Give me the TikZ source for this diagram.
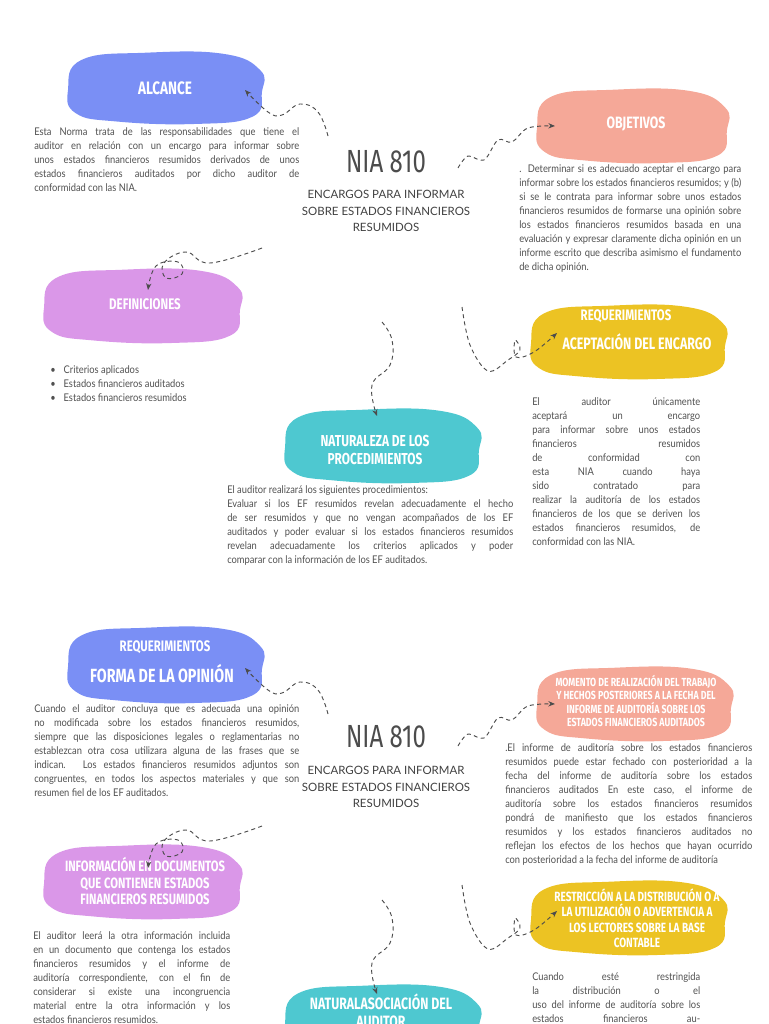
\documentclass[tikz,border=0pt]{standalone}
\usepackage{fontspec}
\usetikzlibrary{arrows.meta}
\setmainfont[FakeStretch=0.88]{Lato}
\newfontfamily\headfont[FakeStretch=0.75]{Fira Sans}
\newfontfamily\subfont{Lato}
\definecolor{bluec}{HTML}{7A8FF5}
\definecolor{salmonc}{HTML}{F5A898}
\definecolor{purplec}{HTML}{DA97E8}
\definecolor{yellowc}{HTML}{ECC323}
\definecolor{tealc}{HTML}{4EC8D0}
\definecolor{txtc}{HTML}{505050}
\newcommand\myblob[5]{\begin{scope}[shift={(#1,#2)},xscale=#3,yscale=#4]
\fill[#5] plot[smooth cycle,tension=0.75] coordinates {(-1,0.05) (-0.86,-0.78) (-0.2,-0.98) (0.6,-0.95) (0.98,-0.5) (1,0.1) (0.9,0.8) (0.3,1) (-0.5,0.93) (-0.92,0.7)};
\end{scope}}
\newcommand\hf[2]{\headfont\bfseries\fontsize{#1}{#2}\selectfont}
\tikzset{
 head/.style={text=white,align=center,inner sep=0pt},
 body/.style={text=txtc,font=\fontsize{7.95}{10.5}\selectfont,align=justify,anchor=north west,inner sep=0pt},
 conn/.style={draw=black!70,dash pattern=on 3pt off 2.5pt,line width=0.7pt,-{Stealth[length=5pt,width=4pt]}},
 title/.style={text=black!70,font=\headfont\fontsize{24}{26}\selectfont},
 sub/.style={text=black!75,font=\subfont\fontsize{8.6}{12.4}\selectfont,align=center}
}
\begin{document}
\begin{tikzpicture}[x=0.75pt,y=-0.75pt]
\useasboundingbox (0,0) rectangle (768,1024);
\clip (0,0) rectangle (768,1024);
% ---------------- first half
\myblob{165}{88}{97}{36}{bluec}
\node[head,font=\hf{13.5}{16}] (alc) at (165,88) {ALCANCE};
\node[body,text width=198.75pt] (talc) at (34,127) {Esta Norma trata de las responsabilidades que tiene el\linebreak auditor en relación con un encargo para informar sobre\linebreak unos estados financieros resumidos derivados de unos\linebreak estados financieros auditados por dicho auditor de\linebreak conformidad con las NIA.};
\node[title] (nia) at (386,162) {NIA 810};
\node[sub] (nias) at (386,211) {ENCARGOS PARA INFORMAR\\SOBRE ESTADOS FINANCIEROS\\RESUMIDOS};
\myblob{632}{126}{95}{37}{salmonc}
\node[head,font=\hf{12.3}{15}] (obj) at (636,124) {OBJETIVOS};
\node[body,text width=166.5pt] (tobj) at (519,164) {. Determinar si es adecuado aceptar el encargo para\linebreak informar sobre los estados financieros resumidos; y (b)\linebreak si se le contrata para informar sobre unos estados\linebreak financieros resumidos de formarse una opinión sobre\linebreak los estados financieros resumidos basada en una\linebreak evaluación y expresar claramente dicha opinión en un\linebreak informe escrito que describa asimismo el fundamento\linebreak de dicha opinión.};
\myblob{142}{306}{98}{37}{purplec}
\node[head,font=\hf{11.5}{14}] (def) at (145,304) {DEFINICIONES};
\foreach \t [count=\i] in {Criterios aplicados,Estados financieros auditados,Estados financieros resumidos}
 \node[text=txtc,font=\fontsize{7.95}{9}\selectfont,anchor=west,inner sep=0pt] (b\i) at (50,357+13.5*\i) {\textbullet\hspace{6pt}\t};
\myblob{628}{342}{97}{37}{yellowc}
\node[head,font=\hf{11.4}{13}] (req1) at (626,316) {REQUERIMIENTOS};
\node[head,font=\hf{12.4}{14}] (req2) at (637,342) {ACEPTACIÓN DEL ENCARGO};
\node[body,text width=126pt] (treq) at (532,397) {El auditor únicamente aceptará un encargo\linebreak para informar sobre unos estados\linebreak financieros resumidos de conformidad con\linebreak esta NIA cuando haya sido contratado para\linebreak realizar la auditoría de los estados\linebreak financieros de los que se deriven los\linebreak estados financieros resumidos, de\linebreak conformidad con las NIA.};
\myblob{382}{446}{97}{37}{tealc}
\node[head,font=\hf{11.9}{13.5}] (nat) at (375,450) {NATURALEZA DE LOS\\PROCEDIMIENTOS};
\node[body,text width=214.5pt] (tnat) at (227,485) {El auditor realizará los siguientes procedimientos:\\Evaluar si los EF resumidos revelan adecuadamente el hecho\linebreak de ser resumidos y que no vengan acompañados de los EF\linebreak auditados y poder evaluar si los estados financieros resumidos\linebreak revelan adecuadamente los criterios aplicados y poder\linebreak comparar con la información de los EF auditados.};
% connectors
\coordinate (s1) at (328,136); \coordinate (e1) at (245,90);
\draw[conn] plot[smooth,tension=0.7] coordinates {(s1) (318,112) (300,104) (282,115) (268,112) (e1)};
\coordinate (s2) at (458,168); \coordinate (e2) at (555,126);
\draw[conn] plot[smooth,tension=0.6] coordinates {(s2) (468,156) (484,160) (498,140) (512,142) (528,128) (e2)};
\coordinate (s3) at (262,248); \coordinate (e3) at (148,290);
\draw[conn] plot[smooth,tension=0.7] coordinates {(s3) (210,263) (186,252) (164,263) (166,278) (182,274) (178,262) (156,266) (e3)};
\coordinate (s4) at (382,322); \coordinate (e4) at (377,416);
\draw[conn] plot[smooth,tension=0.7] coordinates {(s4) (392,340) (390,365) (372,385) (e4)};
\coordinate (s5) at (462,307); \coordinate (e5) at (557,333);
\draw[conn] plot[smooth,tension=0.6] coordinates {(s5) (470,345) (488,371) (508,360) (520,350) (515,340) (516,357) (534,352) (e5)};
% ---------------- second half
\myblob{165}{665}{97}{38}{bluec}
\node[head,font=\hf{11.4}{13}] (f1) at (165,647) {REQUERIMIENTOS};
\node[head,font=\hf{14.3}{16}] (f2) at (162,674) {FORMA DE LA OPINIÓN};
\node[body,text width=198.75pt] (tf) at (34,704) {Cuando el auditor concluya que es adecuada una opinión\linebreak no modificada sobre los estados financieros resumidos,\linebreak siempre que las disposiciones legales o reglamentarias no\linebreak establezcan otra cosa utilizara alguna de las frases que se\linebreak indican. Los estados financieros resumidos adjuntos son\linebreak congruentes, en todos los aspectos materiales y que son\linebreak resumen fiel de los EF auditados.};
\node[title] (nia2) at (386,737) {NIA 810};
\node[sub] (nias2) at (386,787) {ENCARGOS PARA INFORMAR\\SOBRE ESTADOS FINANCIEROS\\RESUMIDOS};
\myblob{634}{704}{97}{37}{salmonc}
\node[head,font=\hf{8.8}{10.2}] (mom) at (636,701) {MOMENTO DE REALIZACIÓN DEL TRABAJO\\Y HECHOS POSTERIORES A LA FECHA DEL\\INFORME DE AUDITORÍA SOBRE LOS\\ESTADOS FINANCIEROS AUDITADOS};
\node[body,text width=185.25pt] (tmom) at (505,743) {.El informe de auditoría sobre los estados financieros\linebreak resumidos puede estar fechado con posterioridad a la\linebreak fecha del informe de auditoría sobre los estados\linebreak financieros auditados En este caso, el informe de\linebreak auditoría sobre los estados financieros resumidos\linebreak pondrá de manifiesto que los estados financieros\linebreak resumidos y los estados financieros auditados no\linebreak reflejan los efectos de los hechos que hayan ocurrido\linebreak con posterioridad a la fecha del informe de auditoría};
\myblob{142}{882}{98}{37}{purplec}
\node[head,font=\hf{11.2}{12.4}] (inf) at (145,881) {INFORMACIÓN EN DOCUMENTOS\\QUE CONTIENEN ESTADOS\\FINANCIEROS RESUMIDOS};
\node[body,text width=147.75pt] (tinf) at (33,931) {El auditor leerá la otra información incluida\linebreak en un documento que contenga los estados\linebreak financieros resumidos y el informe de\linebreak auditoría correspondiente, con el fin de\linebreak considerar si existe una incongruencia\linebreak material entre la otra información y los\linebreak estados financieros resumidos.};
\myblob{628}{918}{97}{37}{yellowc}
\node[head,font=\hf{10}{11.6}] (res) at (637,918) {RESTRICCIÓN A LA DISTRIBUCIÓN O A\\LA UTILIZACIÓN O ADVERTENCIA A\\LOS LECTORES SOBRE LA BASE\\CONTABLE};
\node[body,text width=126pt] (tres) at (532,972) {Cuando esté restringida la distribución o el\linebreak uso del informe de auditoría sobre los\linebreak estados financieros auditados, o cuando el\linebreak informe de auditoría sobre los estados\linebreak financieros resumidos};
\myblob{382}{1022}{97}{37}{tealc}
\node[head,font=\hf{12.3}{13.5}] (aso) at (381,1011) {NATURALASOCIACIÓN DEL\\AUDITOR};
\begin{scope}[shift={(0,578)}]
\coordinate (t1) at (328,136); \coordinate (f1e) at (245,90);
\draw[conn] plot[smooth,tension=0.7] coordinates {(t1) (318,112) (300,104) (282,115) (268,112) (f1e)};
\coordinate (t2) at (458,168); \coordinate (f2e) at (555,126);
\draw[conn] plot[smooth,tension=0.6] coordinates {(t2) (468,156) (484,160) (498,140) (512,142) (528,128) (f2e)};
\coordinate (t3) at (262,248); \coordinate (f3e) at (148,290);
\draw[conn] plot[smooth,tension=0.7] coordinates {(t3) (210,263) (186,252) (164,263) (166,278) (182,274) (178,262) (156,266) (f3e)};
\coordinate (t4) at (382,322); \coordinate (f4e) at (377,416);
\draw[conn] plot[smooth,tension=0.7] coordinates {(t4) (392,340) (390,365) (372,385) (f4e)};
\coordinate (t5) at (462,307); \coordinate (f5e) at (557,333);
\draw[conn] plot[smooth,tension=0.6] coordinates {(t5) (470,345) (488,371) (508,360) (520,350) (515,340) (516,357) (534,352) (f5e)};
\end{scope}
\end{tikzpicture}
\end{document}
